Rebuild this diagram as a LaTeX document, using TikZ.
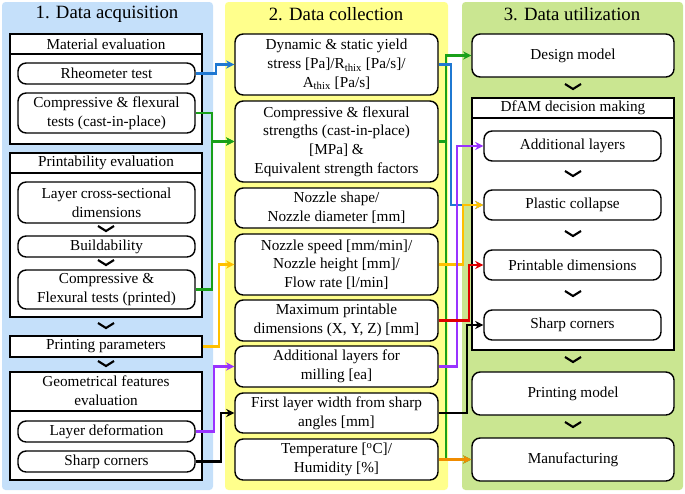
\documentclass[tikz,border=0pt]{standalone}
\usepackage{fontspec}
\setmainfont{Liberation Serif}
\usetikzlibrary{arrows.meta}
\definecolor{pblue}{RGB}{197,224,250}
\definecolor{pyellow}{RGB}{255,255,140}
\definecolor{pgreen}{RGB}{202,230,145}
\definecolor{lblue}{RGB}{31,120,210}
\definecolor{lgreen}{RGB}{25,160,25}
\definecolor{lyellow}{RGB}{255,192,0}
\definecolor{lpurple}{RGB}{153,51,255}
\definecolor{lred}{RGB}{224,0,0}
\definecolor{lorange}{RGB}{240,140,0}
\tikzset{
  box/.style={draw, line width=1.2pt, fill=white, rounded corners=7pt, align=center, inner sep=0pt,
    font=\fontsize{13}{16}\selectfont},
  sbox/.style={box, rounded corners=0pt},
  grp/.style={draw, line width=1.2pt, fill=white},
  gt/.style={align=center, font=\fontsize{13}{16}\selectfont},
  ttl/.style={font=\fontsize{16}{19}\selectfont},
  chev/.style={line width=1.8pt},
  con/.style={line width=2pt, -{Stealth[length=7pt,width=7pt]}},
}
% box: name, x1, y1, x2, y2, style, text
\newcommand{\bx}[7]{\node[#6, minimum width={(#4-#2)*0.03cm}, minimum height={(#5-#3)*0.03cm}] (#1) at ({(#2+#4)/2},{(#3+#5)/2}) {#7};}
\newcommand{\chv}[2]{\draw[chev] (#1-8,#2-3) -- (#1,#2+2) -- (#1+8,#2-3);}
\begin{document}
\begin{tikzpicture}[x=0.03cm, y=-0.03cm]
\useasboundingbox (0,0) rectangle (685,493);
% panels
\fill[pblue, rounded corners=3pt] (2,2) rectangle (213,490);
\fill[pyellow, rounded corners=3pt] (225,2) rectangle (448,490);
\fill[pgreen, rounded corners=3pt] (462,2) rectangle (683,490);
\node[ttl] (t1) at (107,14) {1. Data acquisition};
\node[ttl] (t2) at (336,14) {2. Data collection};
\node[ttl] (t3) at (572,14) {3. Data utilization};

% 1. Data acquisition
\draw[grp] (10,34) rectangle (202,144); \draw[line width=1.2pt] (10,54) -- (202,54);
\node[gt] (g1) at (106,44) {Material evaluation};
\bx{rheo}{18}{63}{195}{84}{box}{Rheometer test}
\bx{cast}{18}{93}{195}{133}{box}{Compressive \& flexural\\tests (cast-in-place)}
\draw[grp] (10,153) rectangle (202,317); \draw[line width=1.2pt] (10,173) -- (202,173);
\node[gt] (g2) at (106,163) {Printability evaluation};
\bx{layer}{18}{182}{195}{223}{box}{Layer cross-sectional\\dimensions}
\chv{106}{229}
\bx{build}{18}{236}{195}{257}{box}{Buildability}
\chv{106}{263}
\bx{printed}{18}{270}{195}{309}{box}{Compressive \&\\Flexural tests (printed)}
\chv{106}{326}
\bx{pp}{10}{336}{202}{357}{sbox}{Printing parameters}
\chv{106}{364}
\draw[grp] (10,372) rectangle (202,480); \draw[line width=1.2pt] (10,411) -- (202,411);
\node[gt] (g3) at (106,391) {Geometrical features\\evaluation};
\bx{deform}{18}{421}{195}{442}{box}{Layer deformation}
\bx{sharpa}{18}{451}{195}{472}{box}{Sharp corners}

% 2. Data collection
\bx{dyn}{235}{34}{438}{95}{box}{Dynamic \& static yield\\stress [Pa]/R\textsubscript{thix} [Pa/s]/\\A\textsubscript{thix} [Pa/s]}
\bx{cmp}{235}{101}{438}{182}{box}{Compressive \& flexural\\strengths (cast-in-place)\\{}[MPa] \&\\Equivalent strength factors}
\bx{noz}{235}{188}{438}{228}{box}{Nozzle shape/\\Nozzle diameter [mm]}
\bx{speed}{235}{234}{438}{295}{box}{Nozzle speed [mm/min]/\\Nozzle height [mm]/\\Flow rate [l/min]}
\bx{maxd}{235}{300}{438}{341}{box}{Maximum printable\\dimensions (X, Y, Z) [mm]}
\bx{addm}{235}{346}{438}{387}{box}{Additional layers for\\milling [ea]}
\bx{first}{235}{393}{438}{433}{box}{First layer width from sharp\\angles [mm]}
\bx{temp}{235}{439}{438}{480}{box}{Temperature [\textsuperscript{o}C]/\\Humidity [\%]}

% 3. Data utilization
\bx{design}{472}{34}{674}{77}{box}{Design model}
\chv{573}{87}
\draw[grp] (472,98) rectangle (674,350); \draw[line width=1.2pt] (472,118) -- (674,118);
\node[gt] (g4) at (573,108) {DfAM decision making};
\bx{addl}{484}{131}{661}{161}{box}{Additional layers}
\chv{573}{174}
\bx{plastic}{484}{190}{661}{220}{box}{Plastic collapse}
\chv{573}{234}
\bx{printable}{484}{250}{661}{280}{box}{Printable dimensions}
\chv{573}{294}
\bx{sharpb}{484}{310}{661}{340}{box}{Sharp corners}
\chv{573}{360}
\bx{pmodel}{472}{372}{674}{415}{box}{Printing model}
\chv{573}{425}
\bx{manu}{472}{438}{674}{481}{box}{Manufacturing}

% connectors
\draw[con, lblue] (rheo.east) -- ++(20,0) |- (dyn.west);
\draw[con, lgreen] (cast.east) -- ++(16,0) |- (cmp.west);
\draw[con, lgreen] (printed.east) -- ++(16,0) |- (cmp.west);
\draw[con, lyellow] (pp.east) -- ++(16,0) |- (speed.west);
\draw[con, lpurple] (deform.east) -- ++(18,0) |- (addm.west);
\draw[con, black] (sharpa.east) -- ++(25,0) |- (first.west);
\draw[con, lgreen] (cmp.east) -- ++(7,0) |- (design.west);
\draw[con, lgreen] (cmp.east) -- ++(7,0) |- (manu.west);
\draw[con, lorange] (temp.east) -- (manu.west);
\draw[con, lblue] (dyn.east) -- ++(12,0) |- (plastic.west);
\draw[con, lyellow] (speed.east) -- ++(24,0) |- (plastic.west);
\draw[con, lpurple] (addm.east) -- ++(18,0) |- (addl.west);
\draw[con, lred] (maxd.east) -- ++(30,0) |- (printable.west);
\draw[con, black] (first.east) -- ++(28,0) |- (sharpb.west);
\end{tikzpicture}
\end{document}
